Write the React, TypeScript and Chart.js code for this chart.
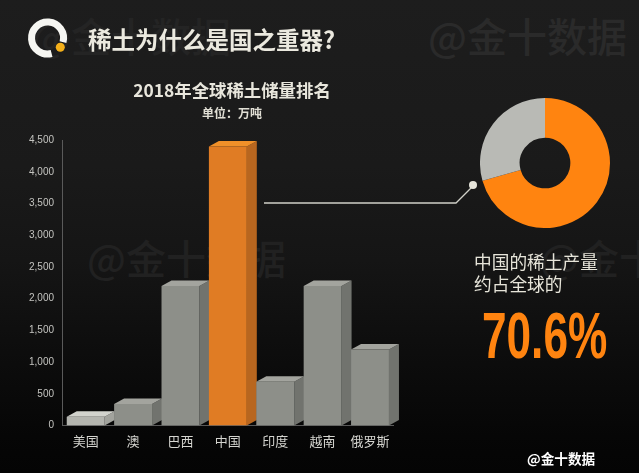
import React, { useEffect, useRef } from "react";
import { Chart, registerables } from "chart.js";

Chart.register(...registerables);

const categories = ["美国", "澳", "巴西", "中国", "印度", "越南", "俄罗斯"];
const reserves = [140, 340, 2200, 4400, 690, 2200, 1200];
const shareLabels = ["中国", "其他"];
const shareValues = [70.6, 29.4];
const chartTitle = "2018年全球稀土储量排名";
const chartSubtitle = "单位：万吨";
const CJK = '"Noto Sans CJK SC", sans-serif';

const front = (i: number) => (i === 3 ? "#e07c24" : i === 0 ? "#b4b5af" : "#8d8f89");
const topFace = (i: number) => (i === 3 ? "#f09029" : i === 0 ? "#d2d3cd" : "#a3a49e");
const sideFace = (i: number) => (i === 3 ? "#b8661f" : i === 0 ? "#a2a39d" : "#71736e");

const bar3d = {
  id: "bar3d",
  beforeDatasetsDraw(chart: any) {
    const { ctx } = chart;
    const dx = 10;
    const dy = 5.5;
    chart.getDatasetMeta(0).data.forEach((el: any, i: number) => {
      const p = el.getProps(["x", "y", "base", "width"], true);
      const r = p.x + p.width / 2;
      const l = p.x - p.width / 2;
      ctx.fillStyle = sideFace(i);
      ctx.beginPath();
      ctx.moveTo(r, p.y);
      ctx.lineTo(r + dx, p.y - dy);
      ctx.lineTo(r + dx, p.base - dy);
      ctx.lineTo(r, p.base);
      ctx.closePath();
      ctx.fill();
      ctx.fillStyle = topFace(i);
      ctx.beginPath();
      ctx.moveTo(l, p.y);
      ctx.lineTo(l + dx, p.y - dy);
      ctx.lineTo(r + dx, p.y - dy);
      ctx.lineTo(r, p.y);
      ctx.closePath();
      ctx.fill();
    });
  },
};

const abs = (left: number, top: number, extra: React.CSSProperties = {}): React.CSSProperties => ({
  position: "absolute",
  left,
  top,
  whiteSpace: "nowrap",
  fontFamily: CJK,
  ...extra,
});

export default function App() {
  const barRef = useRef<HTMLCanvasElement>(null);
  const pieRef = useRef<HTMLCanvasElement>(null);

  useEffect(() => {
    document.body.style.margin = "0";
    const bar = new Chart(barRef.current!, {
      type: "bar",
      data: {
        labels: categories,
        datasets: [
          {
            data: reserves,
            backgroundColor: categories.map((_, i) => front(i)),
            barPercentage: 0.8,
            categoryPercentage: 1,
          },
        ],
      },
      options: {
        animation: false,
        responsive: false,
        layout: { padding: { left: 0, right: 0, top: 6, bottom: 15.5 } },
        plugins: {
          legend: { display: false },
          tooltip: { enabled: false },
          title: {
            display: true,
            text: chartTitle,
            color: "#e8e6dc",
            font: { family: CJK, size: 17.4, weight: "bold" },
            padding: { top: 74, bottom: 0 },
          },
          subtitle: {
            display: true,
            text: chartSubtitle,
            color: "#e0ded4",
            font: { family: CJK, size: 12, weight: "bold" },
            padding: { top: 5.5, bottom: 19.5 },
          },
        },
        scales: {
          x: {
            grid: { display: false, drawTicks: false },
            border: { color: "#5a5a5a" },
            ticks: { color: "#d5d5d0", font: { family: CJK, size: 13 }, padding: 8, maxRotation: 0 },
            afterFit: (s: any) => {
              s.height = 32;
            },
          },
          y: {
            min: 0,
            max: 4500,
            grid: { display: false, drawTicks: false },
            border: { color: "#5a5a5a" },
            ticks: {
              stepSize: 500,
              color: "#c4c4c0",
              padding: 8,
              font: { family: '"Liberation Sans", sans-serif', size: 10 },
              callback: (v: any) => Number(v).toLocaleString("en-US"),
            },
            afterFit: (s: any) => {
              s.width = 62;
            },
          },
          spacer: {
            position: "right",
            display: true,
            grid: { display: false, drawTicks: false },
            border: { display: false },
            ticks: { display: false },
            afterFit: (s: any) => {
              s.width = 70.3;
            },
          },
        },
      },
      plugins: [bar3d],
    } as any);

    const pie = new Chart(pieRef.current!, {
      type: "doughnut",
      data: {
        labels: shareLabels,
        datasets: [
          {
            data: shareValues,
            backgroundColor: ["#ff8410", "#b9bab5"],
            borderWidth: 0,
          },
        ],
      },
      options: {
        animation: false,
        responsive: false,
        cutout: "39%",
        layout: { padding: 0 },
        plugins: { legend: { display: false }, tooltip: { enabled: false } },
      },
    } as any);

    return () => {
      bar.destroy();
      pie.destroy();
    };
  }, []);

  const wm: React.CSSProperties = { color: "#2a2a2a", fontWeight: 500, fontSize: 40, lineHeight: "50px" };

  return (
    <div
      style={{
        position: "absolute",
        left: 0,
        top: 0,
        width: 639,
        height: 473,
        overflow: "hidden",
        background: "linear-gradient(180deg,#1d1d1d 0%,#1a1a1a 35%,#151515 55%,#0e0e0e 72%,#060606 92%,#040404 100%)",
      }}
    >
      <div style={abs(428, 10, wm)}>@金十数据</div>
      <div style={abs(87, 232, { ...wm, color: "#212121" })}>@金十数据</div>
      <div style={abs(540, 232, { ...wm, color: "#212121" })}>@金十</div>
      <div style={abs(32, 10, { ...wm, color: "#242424" })}>@金十数据</div>

      <canvas ref={barRef} width={464} height={473} style={{ position: "absolute", left: 0, top: 0 }} />
      <canvas ref={pieRef} width={130} height={130} style={{ position: "absolute", left: 479.5, top: 97.5 }} />

      <svg width={639} height={473} style={{ position: "absolute", left: 0, top: 0 }}>
        <polyline points="264,203 456,203 473,186" fill="none" stroke="#d0d0c8" strokeWidth={1.3} />
        <circle cx={473} cy={185} r={4} fill="#e6e4da" />
        <path d="M 51.6 53.5 A 16 16 0 1 1 63 42.1" fill="none" stroke="#f6f6f2" strokeWidth={7} />
        <circle cx={60.3} cy={47.3} r={4.5} fill="#f4b01a" />
      </svg>

      <div style={abs(88, 22, { color: "#ebe9df", fontWeight: 700, fontSize: 23.5, lineHeight: "34px" })}>
        稀土为什么是国之重器?
      </div>
      <div style={abs(474, 250, { color: "#e6e4d9", fontSize: 17.7, lineHeight: "22px" })}>
        中国的稀土产量
        <br />
        约占全球的
      </div>
      <div
        style={abs(482, 298, {
          color: "#ff8410",
          fontFamily: '"Liberation Sans", sans-serif',
          fontWeight: 700,
          fontSize: 64,
          lineHeight: "76px",
          transformOrigin: "0 0",
          transform: "scaleX(0.69)",
        })}
      >
        70.6%
      </div>
      <div style={abs(527, 448, { color: "#ffffff", fontWeight: 700, fontSize: 13.6, lineHeight: "20px" })}>
        @金十数据
      </div>
    </div>
  );
}
